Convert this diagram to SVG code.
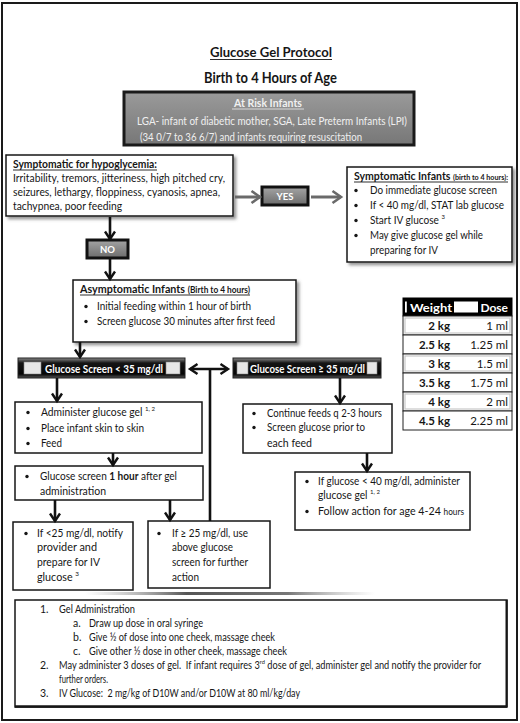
<svg xmlns="http://www.w3.org/2000/svg" width="520" height="723" viewBox="0 0 520 723">
<defs>
<style>
text{font-family:Lato,"Liberation Sans","DejaVu Sans",sans-serif;fill:#161616}
.s{font-size:11px}
.n{font-size:10.5px}
.b{font-weight:bold}
.w{fill:#fff}
.lt{fill:#f0f0f0}
.box{fill:#fff;stroke:#161616;stroke-width:1.5}
.ul{stroke:#161616;stroke-width:0.9}
.ar{fill:none;stroke:#111;stroke-width:2.6}
.ag{fill:none;stroke:#6a6a6a;stroke-width:3}
.dot{fill:#161616}
.ink{fill:#e6e6e6;stroke:#8a8a8a;stroke-width:0.6}
.row{fill:#fff;stroke:#222;stroke-width:1}
.bev{fill:none;stroke:#c8c8c8;stroke-width:1.2}
.tag{stroke:#111;stroke-width:3;fill:url(#gTag)}
.scr{stroke:#222;stroke-width:1;fill:url(#gScr)}
.sup{font-size:6.5px}
</style>
<linearGradient id="gTag" x1="0" y1="0" x2="0" y2="1"><stop offset="0" stop-color="#a4a4a4"/><stop offset="1" stop-color="#6c6c6c"/></linearGradient>
<linearGradient id="gRisk" x1="0" y1="0" x2="0" y2="1"><stop offset="0" stop-color="#9a9a9a"/><stop offset="1" stop-color="#777"/></linearGradient>
<linearGradient id="gScr" x1="0" y1="0" x2="0" y2="1"><stop offset="0" stop-color="#8a8a8a"/><stop offset="0.25" stop-color="#151515"/><stop offset="0.8" stop-color="#050505"/><stop offset="1" stop-color="#555"/></linearGradient>
<linearGradient id="gBar" x1="0" y1="0" x2="1" y2="0"><stop offset="0" stop-color="#999" stop-opacity="0"/><stop offset="0.35" stop-color="#555"/><stop offset="0.7" stop-color="#777"/><stop offset="1" stop-color="#aaa" stop-opacity="0"/></linearGradient>
<filter id="sh" x="-5%" y="-10%" width="115%" height="130%"><feDropShadow dx="2.5" dy="2.5" stdDeviation="1.5" flood-color="#666" flood-opacity="0.7"/></filter>
<marker id="hk" viewBox="0 0 10 12" refX="8.5" refY="6" markerWidth="10" markerHeight="12" markerUnits="userSpaceOnUse" orient="auto-start-reverse" style="overflow:visible"><path d="M1,1 L8.5,6 L1,11" fill="none" stroke="#111" stroke-width="2.4"/></marker>
<marker id="hg" viewBox="0 0 11 14" refX="9.5" refY="7" markerWidth="11" markerHeight="14" markerUnits="userSpaceOnUse" orient="auto" style="overflow:visible"><path d="M1,1 L9.5,7 L1,13" fill="none" stroke="#6a6a6a" stroke-width="2.6"/></marker>
</defs>

<rect x="0" y="0" width="520" height="723" fill="#fff"/>
<rect id="frame" x="2" y="3" width="515" height="717" fill="none" stroke="#1a1a1a" stroke-width="2"/>

<g id="title">
<text class="b" x="210" y="57" font-size="13.5" textLength="122" lengthAdjust="spacingAndGlyphs">Glucose Gel Protocol</text>
<line class="ul" x1="210" y1="59.5" x2="332" y2="59.5"/>
<text class="b" x="204" y="83" font-size="15" textLength="133" lengthAdjust="spacingAndGlyphs">Birth to 4 Hours of Age</text>
</g>

<g id="at-risk">
<rect x="124" y="92" width="290" height="53" fill="url(#gRisk)" stroke="#1a1a1a" stroke-width="3"/>
<text class="lt b" x="268" y="107" font-size="10.5" text-anchor="middle">At Risk Infants</text>
<line x1="232" y1="109" x2="304" y2="109" stroke="#eee" stroke-width="0.8"/>
<text class="lt" x="137" y="125" font-size="10.5" textLength="270" lengthAdjust="spacingAndGlyphs">LGA- infant of diabetic mother, SGA, Late Preterm Infants (LPI)</text>
<text class="lt" x="140" y="141" font-size="10.5" textLength="222" lengthAdjust="spacingAndGlyphs">(34 0/7 to 36 6/7)  and infants requiring resuscitation</text>
</g>

<g id="symptomatic">
<rect class="box" x="6" y="155" width="227" height="61" filter="url(#sh)"/>
<text class="s b" x="13" y="168" textLength="144" lengthAdjust="spacingAndGlyphs">Symptomatic for hypoglycemia:</text>
<line class="ul" x1="13" y1="170" x2="157" y2="170"/>
<text class="s" x="13" y="182" textLength="212" lengthAdjust="spacingAndGlyphs">Irritability, tremors, jitteriness, high pitched cry,</text>
<text class="s" x="13" y="196" textLength="207" lengthAdjust="spacingAndGlyphs">seizures, lethargy, floppiness, cyanosis, apnea,</text>
<text class="s" x="13" y="210" textLength="109" lengthAdjust="spacingAndGlyphs">tachypnea, poor feeding</text>
</g>

<g id="yes">
<rect class="tag" x="262" y="187" width="46" height="18"/>
<text class="w b" x="285" y="200" font-size="9.5" text-anchor="middle">YES</text>
</g>

<g id="symptomatic-infants">
<rect class="box" x="347" y="167" width="165" height="95" filter="url(#sh)"/>
<text class="s b" x="354" y="180" textLength="154" lengthAdjust="spacingAndGlyphs">Symptomatic Infants <tspan font-size="7.5">(birth to 4 hours):</tspan></text>
<line class="ul" x1="354" y1="182" x2="508" y2="182"/>
<circle class="dot" cx="356" cy="190.5" r="1.7"/>
<text class="s" x="370" y="194" textLength="127" lengthAdjust="spacingAndGlyphs">Do immediate glucose screen</text>
<circle class="dot" cx="356" cy="205.5" r="1.7"/>
<text class="s" x="370" y="209" textLength="134" lengthAdjust="spacingAndGlyphs">If  &lt; 40 mg/dl, STAT lab glucose</text>
<circle class="dot" cx="356" cy="220.5" r="1.7"/>
<text class="s" x="370" y="224" textLength="75" lengthAdjust="spacingAndGlyphs">Start IV glucose <tspan class="sup" dy="-5">3</tspan></text>
<circle class="dot" cx="356" cy="235.5" r="1.7"/>
<text class="s" x="370" y="239" textLength="113" lengthAdjust="spacingAndGlyphs">May give glucose gel while</text>
<text class="s" x="370" y="254" textLength="68" lengthAdjust="spacingAndGlyphs">preparing for IV</text>
</g>

<g id="no">
<rect class="tag" x="87" y="240" width="41" height="18"/>
<text class="w b" x="107.5" y="253" font-size="9.5" text-anchor="middle">NO</text>
</g>

<g id="asymptomatic">
<rect class="box" x="73" y="280" width="223" height="62" filter="url(#sh)"/>
<text class="s b" x="80" y="293" textLength="170" lengthAdjust="spacingAndGlyphs">Asymptomatic Infants <tspan font-size="8.5">(Birth to 4 hours)</tspan></text>
<line class="ul" x1="80" y1="295" x2="250" y2="295"/>
<circle class="dot" cx="86" cy="306.5" r="1.7"/>
<text class="s" x="97" y="310" textLength="154" lengthAdjust="spacingAndGlyphs">Initial feeding within 1 hour of birth</text>
<circle class="dot" cx="86" cy="321.5" r="1.7"/>
<text class="s" x="97" y="325" textLength="178" lengthAdjust="spacingAndGlyphs">Screen glucose 30 minutes after first feed</text>
</g>

<g id="dose-table">
<rect x="403" y="298" width="109" height="18" fill="#000" stroke="#000"/>
<rect x="405" y="301.5" width="1.8" height="11" fill="#fff"/>
<text class="w b" x="410" y="311.5" font-size="12" textLength="42" lengthAdjust="spacingAndGlyphs">Weight</text>
<rect x="454" y="301.5" width="24" height="11" fill="#fff"/>
<text class="w b" x="508" y="311.5" font-size="12" text-anchor="end">Dose</text>
<rect class="row" x="403" y="316" width="109" height="19"/>
<rect class="bev" x="405" y="318" width="105" height="15"/>
<text class="b" x="450" y="330" font-size="11.5" text-anchor="end">2 kg</text>
<text x="508" y="330" font-size="11.5" text-anchor="end">1 ml</text>
<rect class="row" x="403" y="335" width="109" height="19"/>
<text class="b" x="450" y="349" font-size="11.5" text-anchor="end">2.5 kg</text>
<text x="508" y="349" font-size="11.5" text-anchor="end">1.25 ml</text>
<rect class="row" x="403" y="354" width="109" height="19"/>
<rect class="bev" x="405" y="356" width="105" height="15"/>
<text class="b" x="450" y="368" font-size="11.5" text-anchor="end">3 kg</text>
<text x="508" y="368" font-size="11.5" text-anchor="end">1.5 ml</text>
<rect class="row" x="403" y="373" width="109" height="19"/>
<text class="b" x="450" y="387" font-size="11.5" text-anchor="end">3.5 kg</text>
<text x="508" y="387" font-size="11.5" text-anchor="end">1.75 ml</text>
<rect class="row" x="403" y="392" width="109" height="19"/>
<rect class="bev" x="405" y="394" width="105" height="15"/>
<text class="b" x="450" y="406" font-size="11.5" text-anchor="end">4 kg</text>
<text x="508" y="406" font-size="11.5" text-anchor="end">2 ml</text>
<rect class="row" x="403" y="411" width="109" height="19"/>
<text class="b" x="450" y="425" font-size="11.5" text-anchor="end">4.5 kg</text>
<text x="508" y="425" font-size="11.5" text-anchor="end">2.25 ml</text>
</g>

<g id="screen-low">
<rect class="scr" x="18" y="358" width="167" height="20"/>
<rect class="ink" x="24" y="362" width="17" height="12"/>
<rect class="ink" x="166" y="362" width="14" height="12"/>
<text class="w b" x="45" y="372.5" font-size="11" textLength="118" lengthAdjust="spacingAndGlyphs">Glucose Screen &lt; 35 mg/dl</text>
</g>

<g id="screen-high">
<rect class="scr" x="233" y="358" width="148" height="20"/>
<rect class="ink" x="237" y="362" width="11" height="12"/>
<rect class="ink" x="367" y="362" width="10" height="12"/>
<text class="w b" x="250" y="372.5" font-size="11" textLength="115" lengthAdjust="spacingAndGlyphs">Glucose Screen ≥ 35 mg/dl</text>
</g>

<g id="administer">
<rect class="box" x="15" y="402" width="187" height="51"/>
<circle class="dot" cx="28" cy="412.5" r="1.7"/>
<text class="s" x="41" y="416" textLength="114" lengthAdjust="spacingAndGlyphs">Administer glucose gel <tspan class="sup" dy="-5">1, 2</tspan></text>
<circle class="dot" cx="28" cy="428.5" r="1.7"/>
<text class="s" x="41" y="432" textLength="103" lengthAdjust="spacingAndGlyphs">Place infant skin to skin</text>
<circle class="dot" cx="28" cy="443.5" r="1.7"/>
<text class="s" x="41" y="447" textLength="21" lengthAdjust="spacingAndGlyphs">Feed</text>
</g>

<g id="recheck">
<rect class="box" x="15" y="466" width="188" height="34"/>
<circle class="dot" cx="27" cy="476.5" r="1.7"/>
<text class="s" x="40" y="480" textLength="137" lengthAdjust="spacingAndGlyphs">Glucose screen <tspan class="b">1 hour</tspan> after gel</text>
<text class="s" x="40" y="495" textLength="66" lengthAdjust="spacingAndGlyphs">administration</text>
</g>

<g id="low25">
<rect class="box" x="13" y="522" width="120" height="68"/>
<circle class="dot" cx="26" cy="533.5" r="1.7"/>
<text class="s" x="37" y="537" textLength="86" lengthAdjust="spacingAndGlyphs">If &lt;25 mg/dl, notify</text>
<text class="s" x="37" y="551" textLength="60" lengthAdjust="spacingAndGlyphs">provider and</text>
<text class="s" x="37" y="566" textLength="63" lengthAdjust="spacingAndGlyphs">prepare for IV</text>
<text class="s" x="37" y="581" textLength="42" lengthAdjust="spacingAndGlyphs">glucose <tspan class="sup" dy="-5">3</tspan></text>
</g>

<g id="high25">
<rect class="box" x="148" y="521" width="122" height="67"/>
<circle class="dot" cx="159" cy="533.5" r="1.7"/>
<text class="s" x="172" y="537" textLength="76" lengthAdjust="spacingAndGlyphs">If ≥ 25 mg/dl, use</text>
<text class="s" x="172" y="551" textLength="61" lengthAdjust="spacingAndGlyphs">above glucose</text>
<text class="s" x="172" y="566" textLength="76" lengthAdjust="spacingAndGlyphs">screen for further</text>
<text class="s" x="172" y="581" textLength="27" lengthAdjust="spacingAndGlyphs">action</text>
</g>

<g id="continue">
<rect class="box" x="243" y="404" width="149" height="49"/>
<circle class="dot" cx="254" cy="413.5" r="1.7"/>
<text class="s" x="267" y="417" textLength="115" lengthAdjust="spacingAndGlyphs">Continue feeds q 2-3 hours</text>
<circle class="dot" cx="254" cy="427.5" r="1.7"/>
<text class="s" x="267" y="431" textLength="98" lengthAdjust="spacingAndGlyphs">Screen glucose prior to</text>
<text class="s" x="267" y="447" textLength="45" lengthAdjust="spacingAndGlyphs">each feed</text>
</g>

<g id="low40">
<rect class="box" x="295" y="472" width="175" height="58"/>
<circle class="dot" cx="307" cy="481.5" r="1.7"/>
<text class="s" x="318" y="485" textLength="142" lengthAdjust="spacingAndGlyphs">If glucose &lt; 40 mg/dl, administer</text>
<text class="s" x="318" y="499" textLength="62" lengthAdjust="spacingAndGlyphs">glucose gel <tspan class="sup" dy="-5">1, 2</tspan></text>
<circle class="dot" cx="307" cy="511.5" r="1.7"/>
<text class="s" x="318" y="515" textLength="146" lengthAdjust="spacingAndGlyphs">Follow action for age 4-24 <tspan font-size="8.5">hours</tspan></text>
</g>

<rect id="rule" x="85" y="592" width="290" height="3" fill="url(#gBar)"/>

<g id="notes">
<rect x="15" y="600" width="492" height="107" fill="#fff" stroke="#161616" stroke-width="1.5"/>
<line x1="15" y1="706.5" x2="507" y2="706.5" stroke="#161616" stroke-width="2.5"/>
<line x1="506.5" y1="600" x2="506.5" y2="707" stroke="#161616" stroke-width="2"/>
<text class="n" x="40" y="613">1.</text>
<text class="n" x="59" y="613" textLength="76" lengthAdjust="spacingAndGlyphs">Gel Administration</text>
<text class="n" x="73" y="627">a.</text>
<text class="n" x="89" y="627" textLength="114" lengthAdjust="spacingAndGlyphs">Draw up dose in oral syringe</text>
<text class="n" x="73" y="641">b.</text>
<text class="n" x="89" y="641" textLength="186" lengthAdjust="spacingAndGlyphs">Give ½ of dose into one cheek, massage cheek</text>
<text class="n" x="73" y="655">c.</text>
<text class="n" x="89" y="655" textLength="198" lengthAdjust="spacingAndGlyphs">Give other ½ dose in other cheek, massage cheek</text>
<text class="n" x="40" y="669">2.</text>
<text class="n" x="59" y="669" textLength="422" lengthAdjust="spacingAndGlyphs">May administer 3 doses of gel.&#160; If infant requires 3<tspan class="sup" dy="-5">rd</tspan><tspan dy="5"> dose of gel, administer gel and notify the provider for</tspan></text>
<text class="n" x="59" y="683" textLength="49" lengthAdjust="spacingAndGlyphs">further orders.</text>
<text class="n" x="40" y="697">3.</text>
<text class="n" x="59" y="697" textLength="241" lengthAdjust="spacingAndGlyphs">IV Glucose:&#160; 2 mg/kg of D10W and/or D10W at 80 ml/kg/day</text>
</g>

<g id="connectors">
<line class="ag" x1="235" y1="197" x2="260" y2="197" marker-end="url(#hg)"/>
<line class="ag" x1="311" y1="197" x2="341" y2="197" marker-end="url(#hg)"/>
<line class="ar" x1="110" y1="217" x2="110" y2="239" marker-end="url(#hk)"/>
<line class="ar" x1="110" y1="259" x2="110" y2="279" marker-end="url(#hk)"/>
<line class="ar" x1="80" y1="342" x2="80" y2="357" marker-end="url(#hk)"/>
<line class="ar" x1="190" y1="369" x2="228" y2="369" marker-start="url(#hk)" marker-end="url(#hk)"/>
<line class="ar" x1="210" y1="369" x2="210" y2="521"/>
<line class="ar" x1="57" y1="378" x2="57" y2="401" marker-end="url(#hk)"/>
<line class="ar" x1="113" y1="453" x2="113" y2="465" marker-end="url(#hk)"/>
<line class="ar" x1="55" y1="500" x2="55" y2="521" marker-end="url(#hk)"/>
<line class="ar" x1="170" y1="500" x2="170" y2="520" marker-end="url(#hk)"/>
<line class="ar" x1="340" y1="378" x2="340" y2="403" marker-end="url(#hk)"/>
<line class="ar" x1="367" y1="453" x2="367" y2="471" marker-end="url(#hk)"/>
</g>
</svg>
